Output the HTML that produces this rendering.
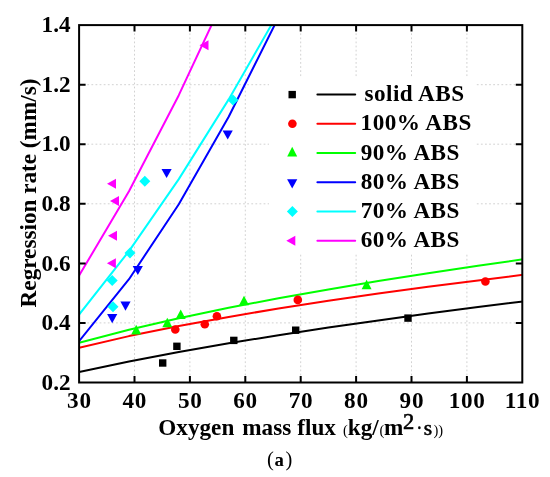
<!DOCTYPE html>
<html><head><meta charset="utf-8"><style>
html,body{margin:0;padding:0;background:#fff;}
svg{display:block;}
.t{font-family:"Liberation Serif",serif;font-weight:bold;font-size:23.2px;fill:#000;}
.lg{letter-spacing:0.45px;}
.xl{letter-spacing:0.7px;}
.sp{font-family:"Liberation Serif",serif;font-size:14.5px;fill:#000;}
.sup{font-family:"Liberation Serif",serif;font-size:22.5px;fill:#000;stroke:#000;stroke-width:0.6px;}
.dot{font-family:"Liberation Serif",serif;font-size:20px;fill:#000;stroke:#000;stroke-width:0.3px;}
.ss{font-family:"Liberation Serif",serif;font-size:21.5px;fill:#000;stroke:#000;stroke-width:0.5px;}
.ap{font-family:"Liberation Serif",serif;font-size:20.5px;fill:#000;}
.aa{font-family:"Liberation Serif",serif;font-size:18.8px;font-weight:bold;fill:#000;}
</style></head><body>
<svg width="550" height="477" viewBox="0 0 550 477">
<defs><clipPath id="pa"><rect x="79.1" y="25.1" width="443.2" height="357.4"/></clipPath></defs>
<path d="M134.5 25.1V382.5M189.9 25.1V382.5M245.3 25.1V382.5M300.7 25.1V382.5M356.1 25.1V382.5M411.5 25.1V382.5M466.9 25.1V382.5M79.1 84.7H522.3M79.1 144.2H522.3M79.1 203.8H522.3M79.1 322.9H522.3" stroke="#d2d2d2" stroke-width="1" stroke-dasharray="1.8 2.3" fill="none"/>
<g clip-path="url(#pa)" fill="none" stroke-width="2" stroke-linejoin="round">
<path d="M79.1 372.0 L129.0 361.4 L178.8 351.9 L228.7 343.3 L278.5 335.2 L328.4 327.6 L378.3 320.4 L428.1 313.6 L478.0 307.1 L527.8 300.8 L577.7 294.8" stroke="#000"/>
<path d="M79.1 347.7 L129.0 336.1 L178.8 326.0 L228.7 316.9 L278.5 308.5 L328.4 300.8 L378.3 293.6 L428.1 286.8 L478.0 280.4 L527.8 274.2 L577.7 268.4" stroke="#f00"/>
<path d="M79.1 342.7 L129.0 329.7 L178.8 318.2 L228.7 307.8 L278.5 298.3 L328.4 289.4 L378.3 281.1 L428.1 273.2 L478.0 265.8 L527.8 258.6 L577.7 251.8" stroke="#0f0"/>
<path d="M79.1 341.1 L129.0 279.2 L178.8 204.3 L228.7 116.8 L278.5 17.3" stroke="#00f"/>
<path d="M79.1 314.6 L129.0 251.1 L178.8 179.1 L228.7 99.4 L278.5 12.5" stroke="#0ff"/>
<path d="M79.1 275.6 L129.0 191.3 L178.8 95.2 L228.7 -11.6" stroke="#f0f"/>
</g>
<rect x="159.0" y="359.3" width="7.4" height="7.4" fill="#000"/>
<rect x="173.2" y="342.6" width="7.4" height="7.4" fill="#000"/>
<rect x="230.1" y="336.7" width="7.4" height="7.4" fill="#000"/>
<rect x="292.0" y="326.5" width="7.4" height="7.4" fill="#000"/>
<rect x="404.3" y="314.4" width="7.4" height="7.4" fill="#000"/>
<circle cx="175.3" cy="329.5" r="4.3" fill="#f00"/>
<circle cx="204.8" cy="324.2" r="4.3" fill="#f00"/>
<circle cx="216.9" cy="316.2" r="4.3" fill="#f00"/>
<circle cx="297.8" cy="299.9" r="4.3" fill="#f00"/>
<circle cx="485.4" cy="281.5" r="4.3" fill="#f00"/>
<polygon points="136.2,324.8 141.2,334.4 131.2,334.4" fill="#0f0"/>
<polygon points="167.3,317.7 172.3,327.3 162.3,327.3" fill="#0f0"/>
<polygon points="180.7,309.4 185.7,319.0 175.7,319.0" fill="#0f0"/>
<polygon points="244.0,295.7 249.0,305.3 239.0,305.3" fill="#0f0"/>
<polygon points="366.6,279.7 371.6,289.3 361.6,289.3" fill="#0f0"/>
<polygon points="107.1,314.1 117.3,314.1 112.2,323.3" fill="#00f"/>
<polygon points="120.4,301.6 130.6,301.6 125.5,310.8" fill="#00f"/>
<polygon points="132.7,265.9 142.9,265.9 137.8,275.1" fill="#00f"/>
<polygon points="161.5,168.9 171.7,168.9 166.6,178.1" fill="#00f"/>
<polygon points="222.6,130.4 232.8,130.4 227.7,139.6" fill="#00f"/>
<polygon points="113.0,301.2 118.5,306.7 113.0,312.2 107.5,306.7" fill="#0ff"/>
<polygon points="112.2,274.9 117.7,280.4 112.2,285.9 106.7,280.4" fill="#0ff"/>
<polygon points="130.0,247.4 135.5,252.9 130.0,258.4 124.5,252.9" fill="#0ff"/>
<polygon points="144.8,175.8 150.3,181.3 144.8,186.8 139.3,181.3" fill="#0ff"/>
<polygon points="233.0,94.5 238.5,100.0 233.0,105.5 227.5,100.0" fill="#0ff"/>
<polygon points="107.0,183.7 116.0,178.7 116.0,188.7" fill="#f0f"/>
<polygon points="110.0,200.9 119.0,195.9 119.0,205.9" fill="#f0f"/>
<polygon points="108.0,235.8 117.0,230.8 117.0,240.8" fill="#f0f"/>
<polygon points="106.9,263.3 115.9,258.3 115.9,268.3" fill="#f0f"/>
<polygon points="199.5,45.3 208.5,40.3 208.5,50.3" fill="#f0f"/>
<rect x="269" y="77" width="206" height="177" fill="#fff"/>
<rect x="288.5" y="90.9" width="7.4" height="7.4" fill="#000"/>
<line x1="317.4" y1="94.6" x2="355.2" y2="94.6" stroke="#000" stroke-width="2" stroke-linecap="round"/>
<text x="364.5" y="101.14999999999999" class="t lg">solid ABS</text>
<circle cx="292.4" cy="123.8" r="4.3" fill="#f00"/>
<line x1="317.4" y1="123.8" x2="355.2" y2="123.8" stroke="#f00" stroke-width="2" stroke-linecap="round"/>
<text x="360.6" y="130.39" class="t lg">100% ABS</text>
<polygon points="292.2,146.8 297.2,156.4 287.2,156.4" fill="#0f0"/>
<line x1="317.4" y1="153.1" x2="355.2" y2="153.1" stroke="#0f0" stroke-width="2" stroke-linecap="round"/>
<text x="360.7" y="159.63" class="t lg">90% ABS</text>
<polygon points="287.1,179.2 297.3,179.2 292.2,188.4" fill="#00f"/>
<line x1="317.4" y1="182.3" x2="355.2" y2="182.3" stroke="#00f" stroke-width="2" stroke-linecap="round"/>
<text x="360.7" y="188.87" class="t lg">80% ABS</text>
<polygon points="292.4,206.1 297.9,211.6 292.4,217.1 286.9,211.6" fill="#0ff"/>
<line x1="317.4" y1="211.6" x2="355.2" y2="211.6" stroke="#0ff" stroke-width="2" stroke-linecap="round"/>
<text x="360.7" y="218.11" class="t lg">70% ABS</text>
<polygon points="286.3,240.8 295.3,235.8 295.3,245.8" fill="#f0f"/>
<line x1="317.4" y1="240.8" x2="355.2" y2="240.8" stroke="#f0f" stroke-width="2" stroke-linecap="round"/>
<text x="360.7" y="247.35" class="t lg">60% ABS</text>
<rect x="79.1" y="25.1" width="443.2" height="357.4" fill="none" stroke="#000" stroke-width="2"/>
<path d="M134.5 382.5v-6.5M134.5 25.1v6.5M189.9 382.5v-6.5M189.9 25.1v6.5M245.3 382.5v-6.5M245.3 25.1v6.5M300.7 382.5v-6.5M300.7 25.1v6.5M356.1 382.5v-6.5M356.1 25.1v6.5M411.5 382.5v-6.5M411.5 25.1v6.5M466.9 382.5v-6.5M466.9 25.1v6.5M79.1 84.7h6.5M522.3 84.7h-6.5M79.1 144.2h6.5M522.3 144.2h-6.5M79.1 203.8h6.5M522.3 203.8h-6.5M79.1 263.4h6.5M522.3 263.4h-6.5M79.1 322.9h6.5M522.3 322.9h-6.5" stroke="#000" stroke-width="2" fill="none"/>
<text x="70.6" y="32.3" class="t" text-anchor="end">1.4</text>
<text x="70.6" y="91.9" class="t" text-anchor="end">1.2</text>
<text x="70.6" y="151.4" class="t" text-anchor="end">1.0</text>
<text x="70.6" y="211.0" class="t" text-anchor="end">0.8</text>
<text x="70.6" y="270.6" class="t" text-anchor="end">0.6</text>
<text x="70.6" y="330.1" class="t" text-anchor="end">0.4</text>
<text x="70.6" y="389.7" class="t" text-anchor="end">0.2</text>
<text x="79.4" y="408.3" class="t xl" text-anchor="middle">30</text>
<text x="134.8" y="408.3" class="t xl" text-anchor="middle">40</text>
<text x="190.2" y="408.3" class="t xl" text-anchor="middle">50</text>
<text x="245.6" y="408.3" class="t xl" text-anchor="middle">60</text>
<text x="301.0" y="408.3" class="t xl" text-anchor="middle">70</text>
<text x="356.4" y="408.3" class="t xl" text-anchor="middle">80</text>
<text x="411.9" y="408.3" class="t xl" text-anchor="middle">90</text>
<text x="467.2" y="408.3" class="t xl" text-anchor="middle">100</text>
<text x="522.6" y="408.3" class="t xl" text-anchor="middle">110</text>
<text y="435.1" class="t"><tspan x="158.3">Oxygen</tspan><tspan x="242.3">mass</tspan><tspan x="297.3">flux</tspan></text>
<text y="435.1" class="sp"><tspan x="343">(</tspan><tspan x="379.5">(</tspan><tspan x="433.5">))</tspan></text>
<text y="435.1" class="t"><tspan x="347.8">kg/</tspan><tspan x="384">m</tspan></text>
<text x="403" y="429" class="sup">2</text>
<text x="416" y="435.1" class="dot">·</text>
<text x="423.8" y="435.1" class="ss">s</text>
<text transform="translate(35.5,307.4) rotate(-90)" x="0" y="0" class="t">Regression rate (mm/s)</text>
<text y="465.9" class="ap"><tspan x="267">(</tspan><tspan x="285.5">)</tspan></text>
<text x="274.5" y="465.6" class="aa">a</text>
</svg>
</body></html>
